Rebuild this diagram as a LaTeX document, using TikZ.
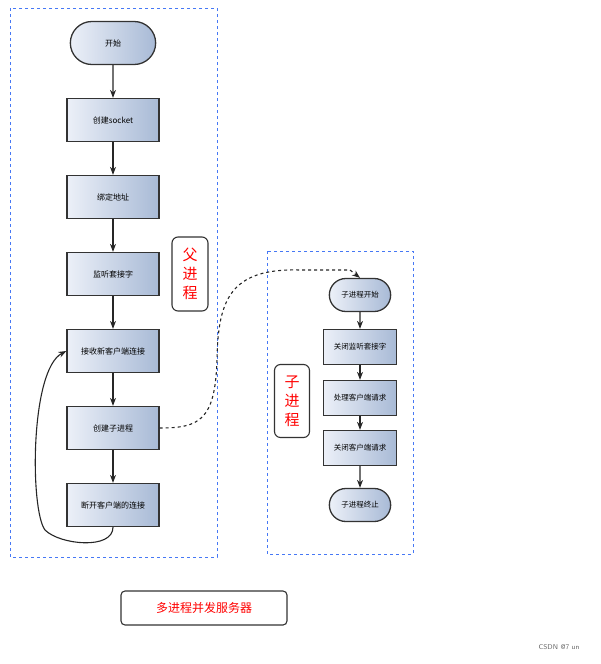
\documentclass[tikz,border=0pt]{standalone}
\usepackage{fontspec}
\newfontfamily\cjk{Noto Sans CJK SC}
\usetikzlibrary{arrows.meta,shapes.misc}
\definecolor{boxdark}{RGB}{168,186,214}
\definecolor{boxlight}{RGB}{236,240,248}
\definecolor{frameblue}{RGB}{70,120,245}
\tikzset{
  procbox/.style={draw=black!80, line width=1.3pt, left color=boxlight, right color=boxdark,
    minimum width=92pt, minimum height=43pt, font=\cjk\fontsize{8}{9}\selectfont},
  term/.style={procbox, rounded rectangle},
  cproc/.style={procbox, minimum width=73pt, minimum height=35pt, font=\cjk\fontsize{7.5}{9}\selectfont},
  cterm/.style={cproc, rounded rectangle, minimum width=68pt, minimum height=33pt},
  tagbox/.style={draw=black!80, line width=1.1pt, rounded corners=6pt, fill=white, text=red, font=\cjk\fontsize{15}{19}\selectfont, align=center, inner sep=3pt},
  flow/.style={-{Stealth[length=8pt]}, line width=1.1pt, black!85}
}
\begin{document}
\begin{tikzpicture}[x=1pt, y=-1pt]
    \useasboundingbox (0,0) rectangle (600,664);

    % frames
    \draw[frameblue, dashed, line width=1pt] (10,8) rectangle (217,557);
    \draw[frameblue, dashed, line width=1pt] (267,251) rectangle (413,554);

    % parent process
    \node[term] (start) at (113,43) {开始};
    \node[procbox] (socket) at (113,120) {创建socket};
    \node[procbox] (bind) at (113,197) {绑定地址};
    \node[procbox] (listen) at (113,274) {监听套接字};
    \node[procbox] (accept) at (113,351) {接收新客户端连接};
    \node[procbox] (fork) at (113,428) {创建子进程};
    \node[procbox] (close) at (113,505) {断开客户端的连接};

    \draw[flow] (start) -- (socket);
    \draw[flow] (socket) -- (bind);
    \draw[flow] (bind) -- (listen);
    \draw[flow] (listen) -- (accept);
    \draw[flow] (accept) -- (fork);
    \draw[flow] (fork) -- (close);
    \draw[flow] (close.south) .. controls (113,550) and (60,545) .. (45,530)
      .. controls (30,510) and (30,370) .. (accept.west);

    % child process
    \node[cterm] (cstart) at (360,295) {子进程开始};
    \node[cproc] (cclose) at (360,347) {关闭监听套接字};
    \node[cproc] (handle) at (360,398) {处理客户端请求};
    \node[cproc] (cfin) at (360,448) {关闭客户端请求};
    \node[cterm] (cend) at (360,505) {子进程终止};

    \draw[flow] (cstart) -- (cclose);
    \draw[flow] (cclose) -- (handle);
    \draw[flow] (handle) -- (cfin);
    \draw[flow] (cfin) -- (cend);
    \draw[flow, dashed] (fork.east) .. controls (200,428) and (215,420) .. (217,360)
      .. controls (218,300) and (230,268) .. (300,270) -- (350,270) -- (cstart.north);

    % labels
    \node[tagbox, minimum width=36pt, minimum height=74pt] (plabel) at (190,274) {父\\进\\程};
    \node[tagbox, minimum width=35pt, minimum height=73pt] (clabel) at (292,401) {子\\进\\程};
    \node[tagbox, rounded corners=4pt, font=\cjk\fontsize{12}{14}\selectfont, minimum width=166pt, minimum height=34pt] (title) at (204,608) {多进程并发服务器};
    \node[font=\sffamily\fontsize{7}{8}\selectfont, text=black!60] (mark) at (559,647) {CSDN @7 un};
\end{tikzpicture}
\end{document}
